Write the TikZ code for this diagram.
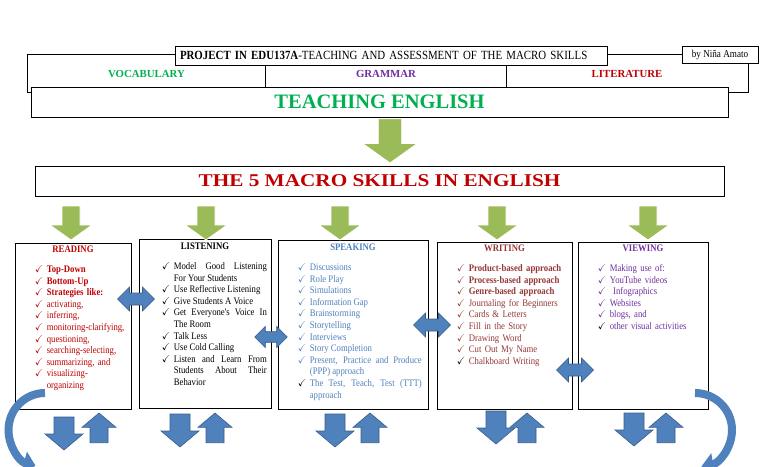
\documentclass[tikz,border=0pt]{standalone}
\usepackage{fontspec}
\setmainfont{Liberation Serif}
\newfontfamily\narrow{Liberation Serif}[FakeStretch=0.87]
\usepackage{amssymb}
\usepackage{graphicx}
\usetikzlibrary{positioning,arrows.meta}

\definecolor{tgreen}{HTML}{00B050}
\definecolor{tpurple}{HTML}{7030A0}
\definecolor{tred}{HTML}{C00000}
\definecolor{tblue}{HTML}{4F81BD}
\definecolor{tbrown}{HTML}{953735}
\definecolor{afill}{HTML}{4F81BD}
\definecolor{adraw}{HTML}{385D8A}
\definecolor{gfill}{HTML}{9BBB59}

\newcommand{\chk}[2][.]{\par\hangindent=12pt\hangafter=1\noindent\makebox[12pt][l]{\textcolor{#1}{$\checkmark$}}#2}

\begin{document}
\begin{tikzpicture}[x=1pt,y=-1pt,
  box/.style={draw,line width=0.7pt,fill=white,inner sep=0pt},
  colhead/.style={font=\fontsize{10.8}{12}\selectfont\bfseries,inner sep=0pt,minimum height=14pt},
  head/.style={font=\narrow\fontsize{10}{11}\selectfont\bfseries,inner sep=0pt},
  items/.style={font=\narrow\fontsize{10}{11.6}\selectfont,inner sep=0pt,align=left,text width=#1},
  jitems/.style={items=#1,align=justify},
  gfill style/.style={fill=gfill,draw=white,line width=0.8pt},
  bfill/.style={fill=afill,draw=adraw,line width=0.6pt},
  bcurve/.style={draw=afill,line width=8pt,-{Triangle[width=22pt,length=12pt]}},
  pics/gdown/.style={code={\path[gfill style] (-9,-34) -- (9,-34) -- (9,-15) -- (21,-15) -- (0,0) -- (-21,-15) -- (-9,-15) -- cycle;}},
  pics/bdown/.style={code={\path[bfill] (-10,-33) -- (10,-33) -- (10,-16) -- (19,-16) -- (0,0) -- (-19,-16) -- (-10,-16) -- cycle;}},
  pics/bboth/.style={code={\path[bfill] (-18.5,0) -- (-6.5,-12) -- (-6.5,-6) -- (6.5,-6) -- (6.5,-12) -- (18.5,0) -- (6.5,12) -- (6.5,6) -- (-6.5,6) -- (-6.5,12) -- cycle;}}]
\useasboundingbox (0,0) rectangle (768,466);
\clip (0,0) rectangle (768,466);

\node[box,fill=none,minimum width=721pt,minimum height=38pt] (frame) at (387.5,73) {};
\node[box,text width=422pt,inner xsep=5pt,align=left,minimum height=19pt,font=\narrow\fontsize{12.5}{13}\selectfont] (title) at (391,55.5) {\textbf{PROJECT IN EDU137A}-TEACHING AND ASSESSMENT OF THE MACRO SKILLS};
\node[box,minimum width=76pt,minimum height=17pt,font=\narrow\fontsize{10.5}{11}\selectfont] (byline) at (720,54.5) {by Niña Amato};
\node[colhead,text=tgreen,minimum width=239pt] (vocab) at (146.5,74) {VOCABULARY};
\node[colhead,text=tpurple,minimum width=240pt] (gram) at (386,74) {GRAMMAR};
\node[colhead,text=tred,minimum width=242pt] (lit) at (627,74) {LITERATURE};
\node[box,minimum width=697pt,minimum height=30pt,text=tgreen,font=\fontsize{20.5}{24}\selectfont\bfseries] (teach) at (379.5,102) {TEACHING ENGLISH};
\draw[line width=0.7pt] (title.south -| gram.west) -- (teach.north -| gram.west);
\draw[line width=0.7pt] (title.south -| gram.east) -- (teach.north -| gram.east);

\pic[scale=1.3] at (390,163) {gdown};
\node[box,minimum width=689pt,minimum height=30pt,text=tred,font=\fontsize{18}{22}\selectfont\bfseries] (macro) at (379.5,181) {\scalebox{1.18}[1]{THE 5 MACRO SKILLS IN ENGLISH}};

\node[box,minimum width=116pt,minimum height=166pt] (read) at (73,326) {};
\node[box,minimum width=132pt,minimum height=169pt] (listen) at (205,323.5) {};
\node[box,minimum width=150pt,minimum height=169pt] (speak) at (353,324.5) {};
\node[box,minimum width=135pt,minimum height=167pt] (write) at (504.5,325.5) {};
\node[box,minimum width=130pt,minimum height=167pt] (view) at (643,325.5) {};

\node[head,text=tred,below=3pt of read.north] (readhead) {READING};
\node[head,below=4pt of listen.north] (listenhead) {LISTENING};
\node[head,text=tblue,below=4pt of speak.north] (speakhead) {SPEAKING};
\node[head,text=tbrown,below=3pt of write.north] (writehead) {WRITING};
\node[head,text=tpurple,below=3pt of view.north] (viewhead) {VIEWING};

\node[items=93pt,text=tred,below right=18pt and 20pt of read.north west] (readlist) {%
\chk{\textbf{Top-Down}}
\chk{\textbf{Bottom-Up}}
\chk{\textbf{Strategies like:}}
\chk{activating,}
\chk{inferring,}
\chk{monitoring-clarifying,}
\chk{questioning,}
\chk{searching-selecting,}
\chk{summarizing, and}
\chk{visualizing-\newline organizing}\par};
\node[jitems=105pt,below right=19pt and 23pt of listen.north west] (listenlist) {%
\chk{Model Good Listening\linebreak For Your Students}
\chk{Use Reflective Listening}
\chk{Give Students A Voice}
\chk{Get Everyone's Voice In\linebreak The Room}
\chk{Talk Less}
\chk{Use Cold Calling}
\chk{Listen and Learn From\linebreak Students About Their\linebreak Behavior}\par};
\node[jitems=124pt,text=tblue,below right=19pt and 20pt of speak.north west] (speaklist) {%
\chk{Discussions}
\chk{Role Play}
\chk{Simulations}
\chk{Information Gap}
\chk{Brainstorming}
\chk{Storytelling}
\chk{Interviews}
\chk{Story Completion}
\chk{Present, Practice and Produce\linebreak (PPP) approach}
\chk[black]{The Test, Teach, Test (TTT)\linebreak approach}\par};
\node[items=110pt,text=tbrown,below right=18pt and 20pt of write.north west] (writelist) {%
\chk{\textbf{Product-based approach}}
\chk{\textbf{Process-based approach}}
\chk{\textbf{Genre-based approach}}
\chk{Journaling for Beginners}
\chk{Cards \& Letters}
\chk{Fill in the Story}
\chk{Drawing Word}
\chk{Cut Out My Name}
\chk[black]{Chalkboard Writing}\par};
\node[items=105pt,text=tpurple,below right=18pt and 20pt of view.north west] (viewlist) {%
\chk{Making use of:}
\chk{YouTube videos}
\chk{\ Infographics}
\chk{Websites}
\chk{blogs, and}
\chk[black]{other visual activities}\par};

\foreach \x in {71,206,340,497,648}
  \pic at (\x,240) {gdown};

\pic at (136,299) {bboth};
\pic[scale=0.88] at (271,337) {bboth};
\pic at (432,325) {bboth};
\pic at (575,370) {bboth};

\foreach \dx/\dy/\ux in {64/450/99,180/447/215,335/447/370,496/444/527,634/446/666}{
  \pic at (\dx,\dy) {bdown};
  \pic[rotate=180,scale=0.9] at (\ux,413) {bdown};
}

\draw[bcurve] (45,393) arc[start angle=270,end angle=105,x radius=36.5,y radius=37];
\draw[bcurve] (695,393) arc[start angle=270,end angle=440,x radius=37,y radius=37];
\end{tikzpicture}
\end{document}
